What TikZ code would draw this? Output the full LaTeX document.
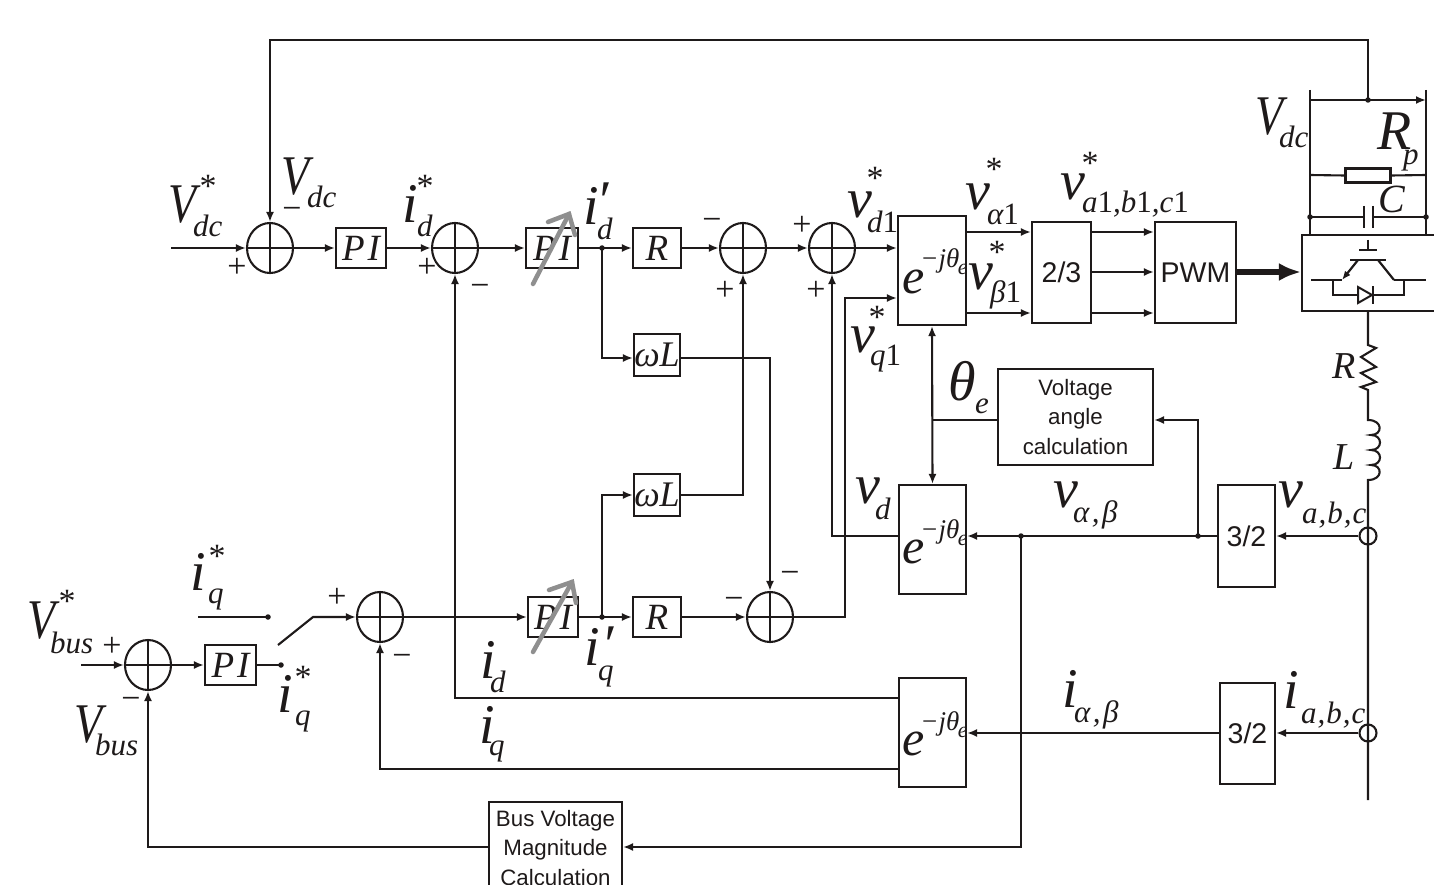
\documentclass[tikz,border=0pt]{standalone}
\usepackage{graphicx}
\usepackage{fontspec}
\setmainfont{Liberation Serif}
\newfontfamily\arialf{Liberation Sans}
\usetikzlibrary{arrows.meta,shapes.geometric,calc}
\definecolor{ink}{HTML}{1E1A1A}
\definecolor{grayarrow}{HTML}{8F8F8F}
\newcommand\subf{\fontsize{31}{31}\selectfont\itshape}
\newcommand\supf{\fontsize{34}{34}\selectfont\upshape}
\newcommand\VV{\scalebox{.82}[1]{V}}
\newcommand\cm{\hspace{2.5pt},\hspace{2.5pt}}
\newcommand\primeg{\fontsize{56}{56}\selectfont\itshape ′}
% main, sub dx, sub drop, sub, sup dx, sup raise, sup
\newcommand\lab[7]{\fontsize{56}{56}\selectfont\itshape
  \rlap{\hspace*{#2pt}\raisebox{-#3pt}{\subf #4}}%
  \rlap{\hspace*{#5pt}\raisebox{#6pt}{\supf #7}}#1}
\newcommand\expo{\fontsize{50}{50}\selectfont\itshape e\hspace{-4pt}\raisebox{25pt}{\fontsize{27}{27}\selectfont −\textit{j}\textit{θ}\hspace{-1.5pt}\raisebox{-7pt}{\fontsize{22}{22}\selectfont\textit{e}}}}
\tikzset{
  x=1pt,y=-1pt,
  wire/.style={draw=ink,line width=2.1pt},
  arr/.style={wire,-{Latex[length=10pt,width=8pt]}},
  sumj/.style={draw=ink,line width=2.1pt,shape=ellipse,inner sep=0pt,minimum width=46pt,minimum height=50pt,
    path picture={\draw[ink,line width=2.1pt] (path picture bounding box.north)--(path picture bounding box.south)
      (path picture bounding box.west)--(path picture bounding box.east);}},
  blk/.style={draw=ink,line width=2.1pt,inner sep=0pt,align=center,text=ink},
  it/.style={font=\fontsize{37}{37}\selectfont\itshape},
  sansbox/.style={font=\arialf\fontsize{28.5}{28.5}\selectfont},
  small/.style={font=\arialf\fontsize{22.3}{29.5}\selectfont},
  sym/.style={anchor=base west,inner sep=0pt,text=ink},
  sgn/.style={inner sep=0pt,text=ink,font=\fontsize{34}{34}\selectfont},
  dotj/.style={circle,fill=ink,inner sep=0pt,minimum size=5.5pt},
  tap/.style={circle,draw=ink,line width=2.1pt,inner sep=0pt,minimum size=17pt},
  tune/.style={draw=grayarrow,line width=4.5pt,line cap=round},
}
\begin{document}
\begin{tikzpicture}
\useasboundingbox (0,0) rectangle (1434,885);
\clip (0,0) rectangle (1434,885);
% summing junctions
\node[sumj] (s1) at (270,248) {};
\node[sumj] (s2) at (455,248) {};
\node[sumj] (s3) at (743,248) {};
\node[sumj] (s4) at (832,248) {};
\node[sumj] (s6) at (380,617) {};
\node[sumj] (s7) at (770,617) {};
\node[sumj] (s5) at (148,665) {};
% blocks
\node[blk,it,minimum width=50pt,minimum height=40pt] (pi1) at (361,248) {P\hspace{3pt}I};
\node[blk,it,minimum width=52pt,minimum height=40pt] (pi2) at (552,248) {P\hspace{3pt}I};
\node[blk,it,minimum width=48pt,minimum height=40pt] (r1) at (657,248) {R};
\node[blk,minimum width=46pt,minimum height=42pt] (wl1) at (657,355) {\fontsize{36}{36}\selectfont\itshape ωL};
\node[blk,minimum width=46pt,minimum height=42pt] (wl2) at (657,495) {\fontsize{36}{36}\selectfont\itshape ωL};
\node[blk,it,minimum width=50pt,minimum height=40pt] (pi3) at (553,617) {P\hspace{3pt}I};
\node[blk,it,minimum width=48pt,minimum height=40pt] (r2) at (657,617) {R};
\node[blk,it,minimum width=51pt,minimum height=40pt] (pi4) at (230.5,665) {P\hspace{3pt}I};
\node[blk,minimum width=68pt,minimum height=109pt] (e1) at (932,270.5) {};
\node[blk,minimum width=67pt,minimum height=109pt] (e2) at (932.5,539.5) {};
\node[blk,minimum width=67pt,minimum height=109pt] (e3) at (932.5,732.5) {};
\node[sym] (e1t) at (902,293) {\expo};
\node[sym] (e2t) at (902,563) {\expo};
\node[sym] (e3t) at (902,755) {\expo};
\node[blk,sansbox,minimum width=59pt,minimum height=101pt] (t23) at (1061.5,272.5) {2/3};
\node[blk,sansbox,minimum width=81pt,minimum height=101pt] (pwm) at (1195.5,272.5) {PWM};
\node[blk,sansbox,minimum width=57pt,minimum height=102pt] (t32a) at (1246.5,536) {3/2};
\node[blk,sansbox,minimum width=55pt,minimum height=101pt] (t32b) at (1247.5,733.5) {3/2};
\node[blk,small,minimum width=155pt,minimum height=96pt] (ang) at (1075.5,417) {Voltage\\angle\\calculation};
\node[blk,small,minimum width=133pt,minimum height=92pt] (bus) at (555.5,848) {Bus Voltage\\Magnitude\\Calculation};
\node[blk,minimum width=150pt,minimum height=76pt] (inv) at (1377,273) {};
% helper points
\coordinate (vdcin) at (171,248);
\coordinate (busin) at (81,665);
\node[dotj] (dd) at (602,248) {};
\node[dotj] (dq) at (602,617) {};
\node[dotj] (jv) at (1198,536) {};
\node[dotj] (jb) at (1021,536) {};
\node[dotj] (pi4o) at (281,665) {};
\node[dotj] (iqr) at (268,617) {};
\coordinate (iqin) at (198,617);
\coordinate (sw0) at (278,645);
\coordinate (sw1) at (313,617);
\node[dotj] (top) at (1368,100) {};
\node[tap] (ta) at (1368,536) {};
\node[tap] (tb) at (1368,733) {};
% forward paths
\draw[arr] (top.center) -- (1368,40) -- (270,40) -- (s1.north);
\draw[arr] (vdcin) -- (s1.west);
\draw[arr] (s1.east) -- (pi1.west);
\draw[arr] (pi1.east) -- (s2.west);
\draw[arr] (s2.east) -- (pi2.west);
\draw[arr] (pi2.east) -- (r1.west);
\draw[arr] (r1.east) -- (s3.west);
\draw[arr] (s3.east) -- (s4.west);
\draw[arr] (s4.east) -- (e1.west|-s4.east);
\draw[arr] (dd.center) |- (wl1.west|-0,358);
\draw[arr] (dq.center) |- (wl2.west);
\draw[arr] (wl1.east|-0,358) -| (s7.north);
\draw[arr] (wl2.east) -| (s3.south);
\draw[arr] (s6.east) -- (pi3.west);
\draw[arr] (pi3.east) -- (r2.west);
\draw[arr] (r2.east) -- (s7.west);
\draw[arr] (s7.east) -- (845,617) -- (845,298) -- (e1.west|-0,298);
\draw[arr] (e2.west|-0,536) -- (832,536) -- (s4.south);
\draw[{Latex[length=10pt,width=8pt]}-{Latex[length=10pt,width=8pt]},wire] (e1.south) -- (e2.north);
\draw[wire] (ang.west|-0,420) -- (932,420);
\draw[arr] (e1.east|-0,232) -- (t23.west|-0,232);
\draw[arr] (e1.east|-0,313) -- (t23.west|-0,313);
\draw[arr] (t23.east|-0,232) -- (pwm.west|-0,232);
\draw[arr] (t23.east|-0,272) -- (pwm.west|-0,272);
\draw[arr] (t23.east|-0,313) -- (pwm.west|-0,313);
\draw[draw=ink,line width=6pt,-{Latex[length=22pt,width=18pt]}] (pwm.east|-0,272) -- (inv.west|-0,272);
% feedback
\draw[arr] (ta.west) -- (t32a.east|-ta.west);
\draw[arr] (t32a.west|-ta.west) -- (e2.east|-ta.west);
\draw[arr] (jv.center) -- (1198,420) -- (ang.east|-0,420);
\draw[arr] (jb.center) -- (1021,847) -- (bus.east|-0,847);
\draw[arr] (bus.west|-0,847) -- (148,847) -- (s5.south);
\draw[arr] (tb.west) -- (t32b.east|-tb.west);
\draw[arr] (t32b.west|-tb.west) -- (e3.east|-tb.west);
\draw[arr] (e3.west|-0,698) -- (455,698) -- (s2.south);
\draw[arr] (e3.west|-0,769) -- (380,769) -- (s6.south);
\draw[arr] (busin) -- (s5.west);
\draw[arr] (s5.east) -- (pi4.west);
\draw[wire] (pi4.east) -- (pi4o.center);
\draw[wire] (iqin) -- (iqr.center);
\draw[arr] (sw0) -- (sw1) -- (s6.west);
% tuning arrows
\draw[tune] (533,284) -- (569,214);
\draw[tune] (548,222) -- (569,214) -- (575,235);
\draw[tune] (533,652) -- (572,582);
\draw[tune] (549,590) -- (572,582) -- (576,603);
% DC link
\draw[wire] (1310,90) -- (1310,235);
\draw[wire] (1426,90) -- (1426,235);
\draw[arr] (1310,100) -- (1426,100);
\node[blk,minimum width=45pt,minimum height=14pt,fill=white] (rp) at (1368,175.5) {};
\draw[wire] (1310,175) -- (rp.west);
\draw[wire] (rp.east) -- (1426,175);
\coordinate (c1) at (1364,217);
\coordinate (c2) at (1373,217);
\node[dotj] (cl) at (1310,217) {};
\node[dotj] (cr) at (1426,217) {};
\draw[wire] (cl.center) -- (c1);
\draw[wire] (c2) -- (cr.center);
\draw[wire] (1364,206) -- (1364,228);
\draw[wire] (1373,206) -- (1373,228);
% switch symbol
\draw[wire] (1368,240) -- (1368,250);
\draw[wire] (1359,250) -- (1377,250);
\draw[draw=ink,line width=2.6pt] (1350,260) -- (1386,260);
\draw[draw=ink,line width=2.2pt,-{Latex[length=9pt,width=7pt]}] (1358,260) -- (1342,280);
\draw[draw=ink,line width=2.2pt] (1378,260) -- (1394,280);
\draw[wire] (1311,280) -- (1342,280);
\draw[wire] (1394,280) -- (1426,280);
\draw[draw=ink,line width=2.6pt] (1333,280) -- (1333,295) -- (1404,295) -- (1404,280);
\draw[draw=ink,line width=2pt,fill=white] (1358,287) -- (1372,295) -- (1358,303) -- cycle;
\draw[draw=ink,line width=2.4pt] (1373,286) -- (1373,304);
% output line, resistor, inductor
\draw[wire] (1368,311) -- (1368,345) -- (1376,348) -- (1361,357) -- (1376,367) -- (1361,373) -- (1376,382) -- (1361,387) -- (1368,390) -- (1368,420)
  .. controls (1383,420) and (1383,435) .. (1371,435)
  .. controls (1383,435) and (1383,450) .. (1371,450)
  .. controls (1383,450) and (1383,465) .. (1371,465)
  .. controls (1383,465) and (1383,480) .. (1368,480) -- (1368,800);
% text labels
\node[sym] (lv1) at (168,223) {\lab{\VV}{25}{14}{dc}{31.5}{25}{*}};
\node[sym] (lv2) at (281,195) {\lab{\VV}{26}{13}{dc}{0}{0}{}};
\node[sym] (lid) at (402,223) {\lab{i}{15}{14}{d}{14.5}{25}{*}};
\node[sym] (lidp) at (583,225) {\lab{i}{14}{15}{d}{13}{5}{\primeg}};
\node[sym] (lv3) at (1255,135) {\lab{\VV}{24}{13}{dc}{0}{0}{}};
\node[sym] (lrp) at (1377,150) {\lab{R}{26}{15}{p}{0}{0}{}};
\node[sym,font=\fontsize{40}{40}\selectfont\itshape] (lc) at (1378,213) {C};
\node[sym] (lvd1) at (847,218) {\lab{v}{20}{15}{d\upshape 1}{19.5}{28}{*}};
\node[sym] (lva) at (965,210) {\lab{v}{22}{15}{α\upshape 1}{20.5}{29}{*}};
\node[sym] (lvabc1) at (1060,200) {\lab{v}{22}{13}{a\upshape 1\itshape,b\upshape 1\itshape,c\upshape 1}{21.5}{25}{*}};
\node[sym] (lvb) at (968,290) {\lab{v}{22}{13}{β\upshape 1}{20.5}{27}{*}};
\node[sym] (lvq) at (850,352) {\lab{v}{20}{13}{q\upshape 1}{18.5}{24}{*}};
\node[sym] (lth) at (948,400) {\lab{θ}{27}{13}{e}{0}{0}{}};
\node[sym] (lvdd) at (855,503) {\lab{v}{20}{16}{d}{0}{0}{}};
\node[sym] (lvab) at (1053,507) {\lab{v}{20}{15}{α\cm β}{0}{0}{}};
\node[sym] (lvabc) at (1278,507) {\lab{v}{24}{16}{a\hspace{1pt},\hspace{1pt}b\hspace{1pt},\hspace{1pt}c}{0}{0}{}};
\node[sym] (liabc) at (1283,708) {\lab{i}{18}{15}{a\hspace{1pt},\hspace{1pt}b\hspace{1pt},\hspace{1pt}c}{0}{0}{}};
\node[sym] (liab) at (1062,707) {\lab{i}{12}{15}{α\cm β}{0}{0}{}};
\node[sym] (liq1) at (190,590) {\lab{i}{18}{13}{q}{18.5}{23}{*}};
\node[sym] (lvbus1) at (27,638) {\lab{\VV}{23}{15}{bus}{31.5}{26}{*}};
\node[sym] (lvbus2) at (74,742) {\lab{\VV}{21}{13}{bus}{0}{0}{}};
\node[sym] (liq2) at (277,712) {\lab{i}{18}{13}{q}{17.5}{24}{*}};
\node[sym] (liqp) at (584,665) {\lab{i}{14}{15}{q}{17}{2}{\primeg}};
\node[sym] (lidd) at (480,678) {\lab{i}{10}{14}{d}{0}{0}{}};
\node[sym] (liqq) at (479,743) {\lab{i}{10}{12}{q}{0}{0}{}};
\node[sym,font=\fontsize{38}{38}\selectfont\itshape] (lr) at (1332,378) {R};
\node[sym,font=\fontsize{38}{38}\selectfont\itshape] (ll) at (1333,469) {L};
% signs
\node[sgn] (p1) at (237,268) {+};
\node[sgn] (m1) at (292,213) {−};
\node[sgn] (p2) at (427,268) {+};
\node[sgn] (m2) at (480,290) {−};
\node[sgn] (m3) at (712,224) {−};
\node[sgn] (p3) at (725,291) {+};
\node[sgn] (p4) at (802,226) {+};
\node[sgn] (p5) at (816,291) {+};
\node[sgn] (m4) at (790,577) {−};
\node[sgn] (m5) at (734,603) {−};
\node[sgn] (p6) at (337,598) {+};
\node[sgn] (m6) at (402,660) {−};
\node[sgn] (p7) at (112,647) {+};
\node[sgn] (m7) at (131,703) {−};
\end{tikzpicture}
\end{document}
